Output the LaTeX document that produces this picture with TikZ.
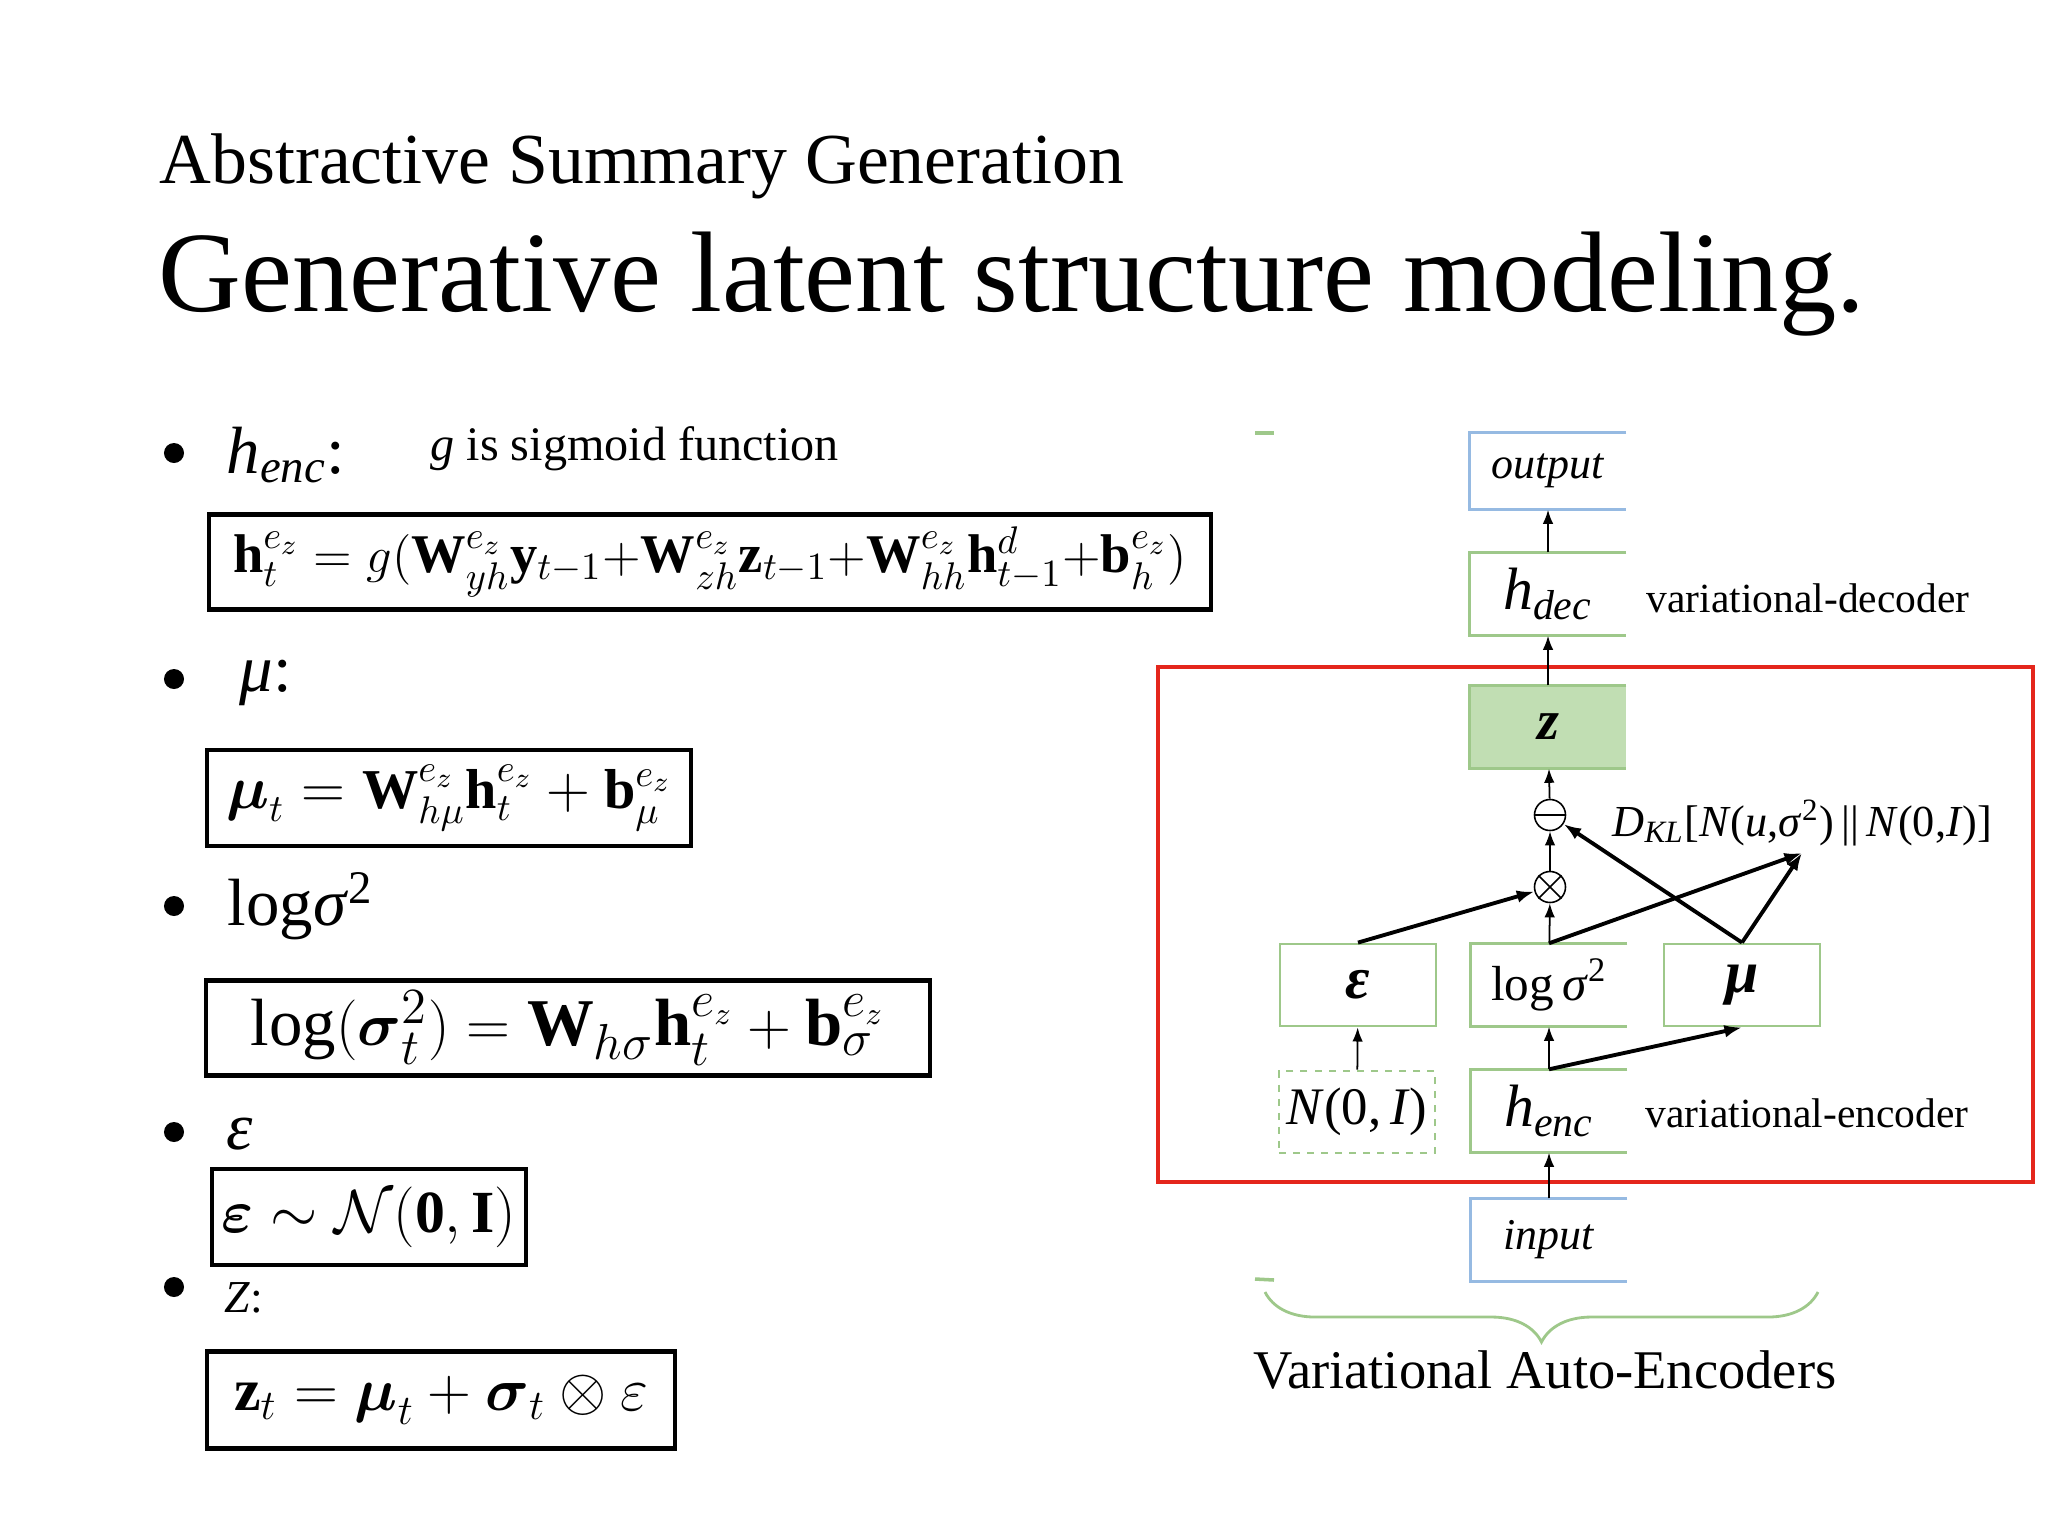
\documentclass[tikz,border=0pt]{standalone}
\usepackage{fontspec}
\setmainfont{Liberation Serif}
\usepackage{amsmath}
\usetikzlibrary{positioning, arrows.meta, calc, decorations.pathreplacing}
\definecolor{vae-green}{RGB}{158,200,138}
\definecolor{vae-blue}{RGB}{150,186,226}
\definecolor{z-fill}{RGB}{193,222,179}
\definecolor{frame-red}{RGB}{228,38,28}
\newcommand{\fsz}[1]{\fontsize{#1}{#1}\selectfont}
\newcommand{\vsub}[2]{\textit{#1}\textsubscript{\textit{#2}}}

\begin{document}
\begin{tikzpicture}[x=0.01cm, y=-0.01cm,
    item/.style={anchor=west, inner sep=0pt, font=\fsz{19}},
    eqbox/.style={draw, line width=1.2pt, inner sep=0pt},
    vbox/.style={minimum width=1.55cm, minimum height=0.82cm, inner sep=0pt, font=\fsz{15}},
    gbox/.style={vbox, draw=vae-green, line width=0.8pt},
    opnode/.style={circle, draw, minimum size=0.31cm, inner sep=0pt, line width=0.45pt},
    thinarrow/.style={-{Latex[length=4pt,width=3pt]}, line width=0.5pt},
    thickarrow/.style={-{Latex[length=5pt,width=3.6pt]}, line width=1.1pt}]
    \useasboundingbox (0,0) rectangle (2048,1536);

    % Titles
    \node[anchor=base west, inner sep=0pt, font=\fsz{20.4}] (subtitle) at (159,183) {Abstractive Summary Generation};
    \node[anchor=base west, inner sep=0pt, font=\fsz{32.6}] (title) at (158,311) {Generative latent structure modeling.};

    % Bullets
    \foreach \y in {453, 679, 906, 1132, 1287}
        \fill (174,\y) circle[radius=0.1cm];

    % Bullet labels
    \node[item] (lhenc) at (226,455) {\vsub{h}{enc}:};
    \node[item, font=\fsz{13.7}] (gnote) at (430,449) {\textit{g} is sigmoid function};
    \node[item] (lmu) at (239,683) {\textit{μ}:};
    \node[item] (lsig) at (227,906) {log\textit{σ}\textsuperscript{2}};
    \node[item] (leps) at (226,1134) {\textit{ε}};
    \node[item, font=\fsz{13}] (lz) at (224,1298) {\textit{Z}:};

    % Equations
    \node[eqbox, minimum width=10.02cm, minimum height=0.95cm, font=\fsz{15.5}] (eqh) at (710,562)
        {$\mathbf{h}_t^{e_z}=g(\mathbf{W}_{yh}^{e_z}\mathbf{y}_{t-1}{+}\mathbf{W}_{zh}^{e_z}\mathbf{z}_{t-1}{+}\mathbf{W}_{hh}^{e_z}\mathbf{h}_{t-1}^{d}{+}\mathbf{b}_h^{e_z})$};
    \node[eqbox, minimum width=4.84cm, minimum height=0.96cm, font=\fsz{16}] (eqmu) at (449,798)
        {$\boldsymbol{\mu}_t=\mathbf{W}_{h\mu}^{e_z}\mathbf{h}_t^{e_z}+\mathbf{b}_{\mu}^{e_z}$};
    \node[eqbox, minimum width=7.23cm, minimum height=0.95cm, font=\fsz{19}] (eqsig) at (568,1028)
        {$\log(\boldsymbol{\sigma}_t^2)=\mathbf{W}_{h\sigma}\mathbf{h}_t^{e_z}+\mathbf{b}_{\sigma}^{e_z}$};
    \node[eqbox, minimum width=3.14cm, minimum height=0.96cm, font=\fsz{17}] (eqeps) at (369,1217)
        {$\boldsymbol{\varepsilon}\sim\mathcal{N}(\mathbf{0},\mathbf{I})$};
    \node[eqbox, minimum width=4.68cm, minimum height=0.97cm, font=\fsz{17}] (eqz) at (441,1400)
        {$\mathbf{z}_t=\boldsymbol{\mu}_t+\boldsymbol{\sigma}_t\otimes\varepsilon$};

    % Encoder frame
    \draw[frame-red, line width=1.3pt] (1158,667) rectangle (2033,1182);

    % VAE boxes
    \node[vbox, minimum height=0.76cm, font=\fsz{12.5}] (output) at (1548,471) {\textit{output}};
    \node[vbox, font=\fsz{17}] (hdec) at (1548,594) {\vsub{h}{dec}};
    \node[vbox, fill=z-fill, font=\fsz{16}] (z) at (1548,727) {\textbf{\textit{z}}};
    \node[opnode] (minus) at (1550,815) {};
    \node[opnode] (times) at (1550,887) {};
    \node[gbox, minimum width=1.56cm, font=\fsz{17}] (eps) at (1358,985) {\textbf{\textit{ε}}};
    \node[vbox, font=\fsz{14}] (logsig) at (1549,985) {log\,\textit{σ}\textsuperscript{2}};
    \node[gbox, minimum width=1.56cm, font=\fsz{17}] (mu) at (1742,985) {\textbf{\textit{μ}}};
    \node[gbox, minimum width=1.56cm, dashed, dash pattern=on 2pt off 2pt, font=\fsz{15}] (nzero) at (1357,1112) {\textit{N}(0,\,\textit{I})};
    \node[vbox, font=\fsz{17}] (henc) at (1549,1111) {\vsub{h}{enc}};
    \node[vbox, font=\fsz{12.5}] (input) at (1549,1240) {\textit{input}};
    \coordinate (klpt) at (1802,853);

    % open-sided borders
    \foreach \n in {hdec, z, logsig, henc}
        \draw[vae-green, line width=0.8pt] (\n.north east) -| (\n.south west) -- (\n.south east);
    \foreach \n in {output, input}
        \draw[vae-blue, line width=0.8pt] (\n.north east) -| (\n.south west) -- (\n.south east);
    \draw[line width=0.45pt] (minus.west) -- (minus.east);
    \draw[line width=0.45pt] (times.north west) -- (times.south east) (times.north east) -- (times.south west);

    % Side labels
    \node[anchor=west, inner sep=0pt, font=\fsz{11.8}] (declabel) at (1646,598) {variational-decoder};
    \node[anchor=west, inner sep=0pt, font=\fsz{11.8}] (enclabel) at (1645,1113) {variational-encoder};
    \node[anchor=west, inner sep=0pt, font=\fsz{12.6}] (kl) at (1612,823)
        {\textit{D}\textsubscript{\textit{KL}}[\textit{N}(\textit{u},\textit{σ}\textsuperscript{2})\,||\,\textit{N}(0,\textit{I})]};

    % Arrows
    \draw[thinarrow] (input) -- (henc);
    \draw[thinarrow] (henc) -- (logsig);
    \draw[thinarrow] (nzero) -- (eps);
    \draw[thinarrow] (logsig) -- (times);
    \draw[thinarrow] (times) -- (minus);
    \draw[thinarrow] (minus) -- (z);
    \draw[thinarrow] (z) -- (hdec);
    \draw[thinarrow] (hdec) -- (output);
    \draw[thickarrow] (henc.north) -- (mu.south);
    \draw[thickarrow] (eps.north) -- (times);
    \draw[thickarrow] (logsig.north) -- (klpt);
    \draw[thickarrow] (mu.north) -- (klpt);
    \draw[thickarrow] (mu.north) -- (minus);

    % Brace
    \coordinate (braceL) at (1265,1292);
    \coordinate (braceR) at (1818,1292);
    \draw[vae-green, line width=0.8pt, decorate, decoration={brace, mirror, amplitude=0.5cm}] (braceL) -- (braceR);
    \draw[vae-green, line width=1pt] (1255,433) -- (1274,433);
    \draw[vae-green, line width=1pt] (1255,1279) -- (1274,1280);
    \node[anchor=north, inner sep=0pt, font=\fsz{15.5}] (vaelabel) at (1545,1350) {Variational Auto-Encoders};
\end{tikzpicture}
\end{document}
